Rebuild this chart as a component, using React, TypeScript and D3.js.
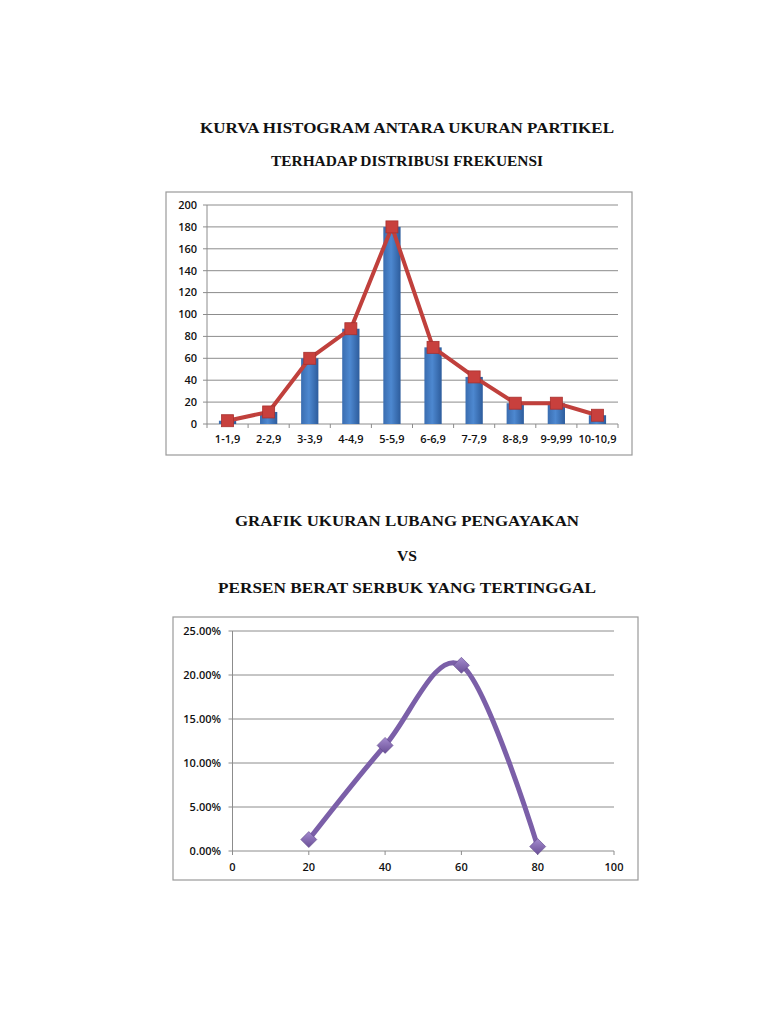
import * as d3 from 'd3';

// Histogram: particle size class vs frequency
const sizeClasses = ['1-1,9', '2-2,9', '3-3,9', '4-4,9', '5-5,9', '6-6,9', '7-7,9', '8-8,9', '9-9,99', '10-10,9'];
const frequency = [3, 11, 60, 87, 180, 70, 43, 19, 19, 8];
const freqTicks = [0, 20, 40, 60, 80, 100, 120, 140, 160, 180, 200];

// Sieve opening vs percent weight retained
const sieveSize = [20, 40, 60, 80];
const percentRetained = [0.013, 0.12, 0.211, 0.005];
const sizeTicks = [0, 20, 40, 60, 80, 100];
const pctTicks = [0, 0.05, 0.1, 0.15, 0.2, 0.25];

const title1 = ['KURVA HISTOGRAM ANTARA UKURAN PARTIKEL', 'TERHADAP DISTRIBUSI FREKUENSI'];
const title2 = ['GRAFIK UKURAN LUBANG PENGAYAKAN', 'VS', 'PERSEN BERAT SERBUK YANG TERTINGGAL'];

const titleFont = '"Liberation Serif", "DejaVu Serif", serif';
const axisFont = '"Open Sans", "Liberation Sans", sans-serif';
const gridColor = '#8c8c8c';
const axisSize = 11;

function HistogramChart() {
  const left = 207, right = 618, top = 205, bottom = 424;
  const x = d3.scaleBand<string>().domain(sizeClasses).range([left, right]);
  const y = d3.scaleLinear().domain([0, 200]).range([bottom, top]);
  const barW = x.bandwidth() * 0.42;
  const line = d3.line<number>()
    .x((_, i) => (x(sizeClasses[i]) as number) + x.bandwidth() / 2)
    .y((d) => y(d));

  return (
    <g>
      <defs>
        <linearGradient id="barGrad" x1="0" x2="1" y1="0" y2="0">
          <stop offset="0" stopColor="#3a6db0" />
          <stop offset="0.45" stopColor="#4d88d0" />
          <stop offset="1" stopColor="#2d5c9c" />
        </linearGradient>
      </defs>
      <rect x={166} y={192} width={466} height={263} fill="#fff" stroke="#9a9a9a" strokeWidth={1.2} />
      {freqTicks.map((t) => (
        <g key={t}>
          <line x1={left - 4} x2={right} y1={y(t)} y2={y(t)} stroke={gridColor} strokeWidth={1} />
          <text x={197} y={y(t)} dy="0.35em" textAnchor="end" fontSize={axisSize} fontWeight={600} fontFamily={axisFont} fill="#111">{t}</text>
        </g>
      ))}
      <line x1={left} x2={left} y1={top} y2={bottom} stroke={gridColor} />
      {sizeClasses.map((c) => (
        <line key={'tk' + c} x1={(x(c) as number)} x2={(x(c) as number)} y1={bottom} y2={bottom + 4} stroke={gridColor} />
      ))}
      <line x1={right} x2={right} y1={bottom} y2={bottom + 4} stroke={gridColor} />
      {frequency.map((v, i) => {
        const cx = (x(sizeClasses[i]) as number) + x.bandwidth() / 2;
        return (
          <rect key={'b' + i} x={cx - barW / 2} y={y(v)} width={barW} height={bottom - y(v)} fill="url(#barGrad)" />
        );
      })}
      <path d={line(frequency) || ''} fill="none" stroke="#c0403c" strokeWidth={4} strokeLinejoin="round" />
      {frequency.map((v, i) => {
        const cx = (x(sizeClasses[i]) as number) + x.bandwidth() / 2;
        return (
          <rect key={'m' + i} x={cx - 6} y={y(v) - 6} width={12} height={12} fill="#c8403d" stroke="#a8302e" strokeWidth={0.8} />
        );
      })}
      {sizeClasses.map((c) => (
        <text key={'l' + c} x={(x(c) as number) + x.bandwidth() / 2} y={439} dy="0.35em" textAnchor="middle" fontSize={axisSize} fontWeight={600} fontFamily={axisFont} fill="#111">{c}</text>
      ))}
    </g>
  );
}

function SieveChart() {
  const left = 232.5, right = 614, top = 631, bottom = 851;
  const x = d3.scaleLinear().domain([0, 100]).range([left, right]);
  const y = d3.scaleLinear().domain([0, 0.25]).range([bottom, top]);
  const line = d3.line<number>()
    .x((_, i) => x(sieveSize[i]))
    .y((d) => y(d))
    .curve(d3.curveCatmullRom.alpha(0));
  const fmt = d3.format('.2%');

  return (
    <g>
      <defs>
        <linearGradient id="diaGrad" x1="0" x2="0" y1="0" y2="1">
          <stop offset="0" stopColor="#a48bcf" />
          <stop offset="1" stopColor="#6a4f96" />
        </linearGradient>
      </defs>
      <rect x={173} y={617} width={465} height={263} fill="#fff" stroke="#9a9a9a" strokeWidth={1.2} />
      {pctTicks.map((t) => (
        <g key={t}>
          <line x1={left - 4} x2={right} y1={y(t)} y2={y(t)} stroke={gridColor} strokeWidth={1} />
          <text x={221} y={y(t)} dy="0.35em" textAnchor="end" fontSize={axisSize} fontWeight={600} fontFamily={axisFont} fill="#111">{fmt(t)}</text>
        </g>
      ))}
      <line x1={left} x2={left} y1={top} y2={bottom} stroke={gridColor} />
      {sizeTicks.map((t) => (
        <g key={'x' + t}>
          <line x1={x(t)} x2={x(t)} y1={bottom} y2={bottom + 4} stroke={gridColor} />
          <text x={x(t)} y={867} dy="0.35em" textAnchor="middle" fontSize={axisSize} fontWeight={600} fontFamily={axisFont} fill="#111">{t}</text>
        </g>
      ))}
      <path d={line(percentRetained) || ''} fill="none" stroke="#7b5fa8" strokeWidth={5} strokeLinecap="round" />
      {percentRetained.map((v, i) => {
        const cx = x(sieveSize[i]);
        const cy = y(v);
        return (
          <path key={'d' + i} d={`M${cx},${cy - 8}L${cx + 8},${cy}L${cx},${cy + 8}L${cx - 8},${cy}Z`} fill="url(#diaGrad)" stroke="#5e468a" strokeWidth={0.6} />
        );
      })}
    </g>
  );
}

const title1Widths = [414, 272];
const title2Widths = [344, 20, 378];
const title2Y = [521, 556, 588];

export default function App() {
  return (
    <svg width={768} height={1024} style={{ position: 'absolute', left: 0, top: 0, background: '#fff' }}>
      <rect width={768} height={1024} fill="#fff" />
      {title1.map((t, i) => (
        <text key={t} x={407} y={128 + i * 33} dy="0.35em" textAnchor="middle" fontSize={15} fontWeight="bold" fontFamily={titleFont} fill="#111" textLength={title1Widths[i]} lengthAdjust="spacingAndGlyphs">{t}</text>
      ))}
      {title2.map((t, i) => (
        <text key={t} x={407} y={title2Y[i]} dy="0.35em" textAnchor="middle" fontSize={15} fontWeight="bold" fontFamily={titleFont} fill="#111" textLength={title2Widths[i]} lengthAdjust="spacingAndGlyphs">{t}</text>
      ))}
      <HistogramChart />
      <SieveChart />
    </svg>
  );
}
